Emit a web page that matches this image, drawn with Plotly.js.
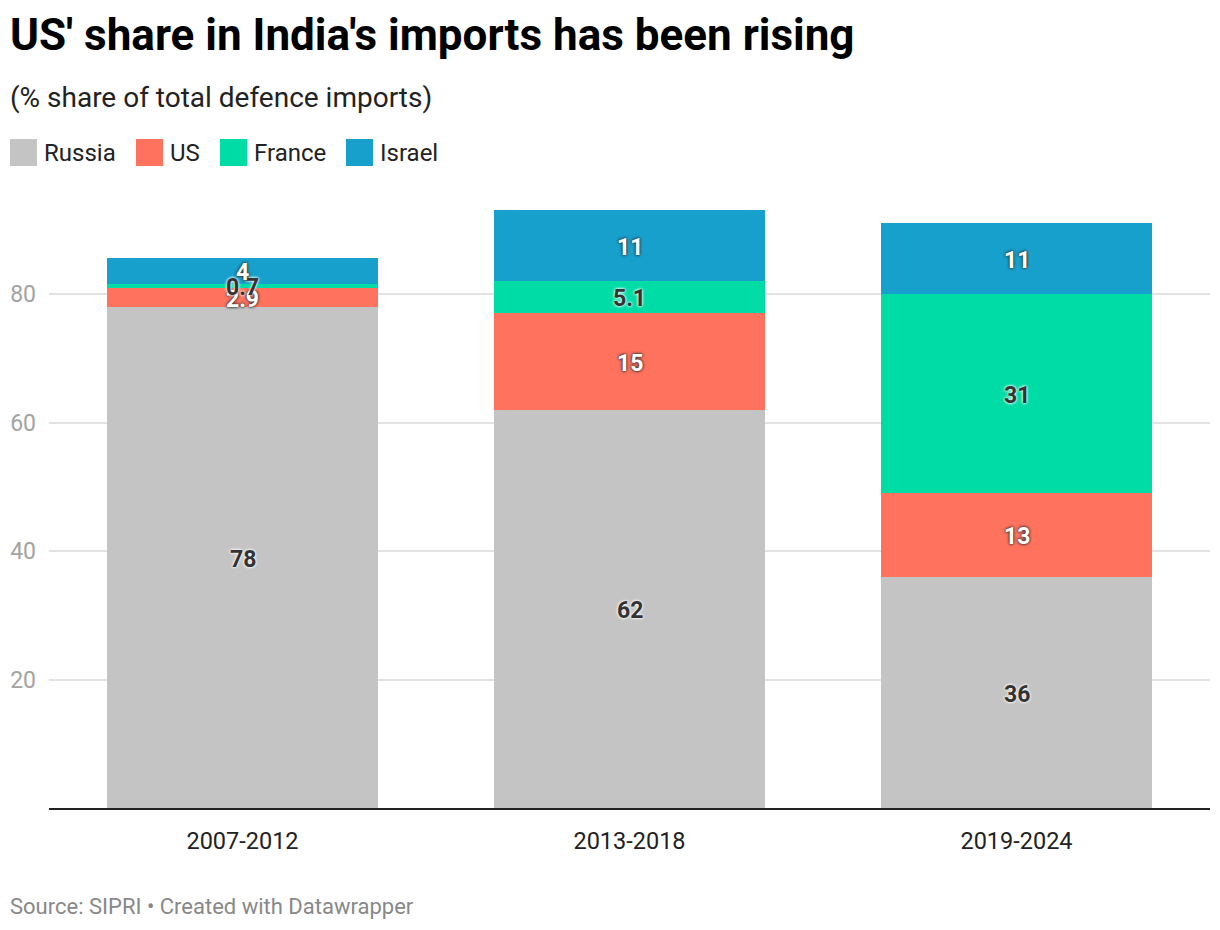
<!DOCTYPE html>
<html>
<head>
<meta charset="utf-8">
<script src="https://cdn.plot.ly/plotly-3.0.1.min.js"></script>
<style>
  html, body { margin: 0; padding: 0; background: #fff; }
  #chart { width: 1220px; height: 930px; }
</style>
</head>
<body>
<div id="chart"></div>
<script>
// India's defence imports by supplier, % share of total
const periods = ['2007-2012', '2013-2018', '2019-2024'];
const russia = [78, 62, 36];
const us = [2.9, 15, 13];
const france = [0.7, 5.1, 31];
const israel = [4, 11, 11];

const seriesNames = ['Russia', 'US', 'France', 'Israel'];
const seriesValues = [russia, us, france, israel];
const seriesColors = ['#c4c4c4', '#ff735e', '#00dca6', '#18a0cc'];
// label ink per series: dark on light fills, white on saturated fills
const labelInk = ['#333333', '#ffffff', '#333333', '#ffffff'];
const lightHalo = '0 0 3px #ffffff, 0 0 3px #ffffff';
const darkHalo = '0 0 3px #333333, 0 0 3px #333333';
const labelHalo = [lightHalo, darkHalo, lightHalo, darkHalo];

const W = 1220, H = 930;
const M = { l: 49, r: 10, t: 198, b: 122 };
const plotW = W - M.l - M.r;
const plotH = H - M.t - M.b;
const px2x = px => (px - M.l) / plotW;
const px2y = py => (H - M.b - py) / plotH;

const traces = seriesNames.map((name, i) => ({
  type: 'bar',
  name: name,
  x: periods,
  y: seriesValues[i],
  marker: { color: seriesColors[i], line: { width: 0 } },
  hoverinfo: 'x+y+name',
  showlegend: false
}));

const annotations = [];

// value labels centred in each stacked segment, drawn above every bar
const base = periods.map(() => 0);
seriesValues.forEach((vals, i) => {
  vals.forEach((v, j) => {
    annotations.push({
      xref: 'x', yref: 'y',
      x: periods[j], y: base[j] + v / 2,
      xanchor: 'center', yanchor: 'middle', yshift: -2,
      text: String(v), showarrow: false,
      font: { family: 'Roboto, sans-serif', size: 23, weight: 700,
              color: labelInk[i], shadow: labelHalo[i] }
    });
    base[j] += v;
  });
});

// legend drawn as swatches + labels
const legendX = [10, 136, 220, 346];
const shapes = [];
seriesNames.forEach((name, i) => {
  shapes.push({
    type: 'rect', xref: 'paper', yref: 'paper',
    x0: px2x(legendX[i]), x1: px2x(legendX[i] + 27),
    y0: px2y(166), y1: px2y(139),
    fillcolor: seriesColors[i], line: { width: 0 }
  });
  annotations.push({
    xref: 'paper', yref: 'paper',
    x: px2x(legendX[i] + 32), y: px2y(152.5),
    xanchor: 'left', yanchor: 'middle',
    text: name, showarrow: false,
    font: { family: 'Roboto, sans-serif', size: 24, color: '#222222' }
  });
});

annotations.push({
  xref: 'paper', yref: 'paper', x: px2x(8), y: px2y(35),
  xanchor: 'left', yanchor: 'middle', showarrow: false,
  text: "<b>US' share in India's imports has been rising</b>",
  font: { family: 'Roboto, sans-serif', size: 44, color: '#000000' }
});
annotations.push({
  xref: 'paper', yref: 'paper', x: px2x(8), y: px2y(97),
  xanchor: 'left', yanchor: 'middle', showarrow: false,
  text: '(% share of total defence imports)',
  font: { family: 'Roboto, sans-serif', size: 28, color: '#222222' }
});
annotations.push({
  xref: 'paper', yref: 'paper', x: px2x(8), y: px2y(906),
  xanchor: 'left', yanchor: 'middle', showarrow: false,
  text: 'Source: SIPRI • Created with Datawrapper',
  font: { family: 'Roboto, sans-serif', size: 22, color: '#888888' }
});

const layout = {
  width: W, height: H,
  margin: M,
  paper_bgcolor: '#ffffff',
  plot_bgcolor: '#ffffff',
  barmode: 'stack',
  bargap: 0.3,
  showlegend: false,
  font: { family: 'Roboto, sans-serif' },
  xaxis: {
    type: 'category',
    showgrid: false,
    showline: true, linecolor: '#222222', linewidth: 2,
    ticks: '',
    tickfont: { family: 'Roboto, sans-serif', size: 23.5, color: '#222222' },
    ticklabelstandoff: 11,
    fixedrange: true
  },
  yaxis: {
    range: [0, plotH / 6.425],
    tickvals: [20, 40, 60, 80],
    showgrid: true, gridcolor: '#e3e3e3', gridwidth: 2,
    zeroline: false,
    showline: false,
    ticks: '',
    tickfont: { family: 'Roboto, sans-serif', size: 23, color: '#a3a3a3' },
    ticklabelstandoff: 12,
    fixedrange: true
  },
  shapes: shapes,
  annotations: annotations
};

Plotly.newPlot('chart', traces, layout, { displayModeBar: false, responsive: false });
</script>
</body>
</html>
